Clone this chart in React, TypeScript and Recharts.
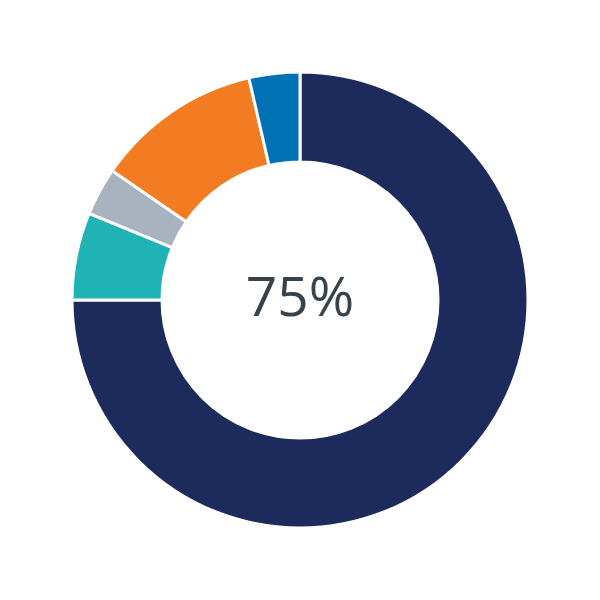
import React from 'react';
import { PieChart, Pie, Cell, Label } from 'recharts';

const NAMES = ['Main', 'Teal', 'Gray', 'Orange', 'Blue'];
const VALUES = [75, 6.2, 3.4, 11.8, 3.6];
const COLORS = ['#1c2b5b', '#20b3b5', '#a9b3bf', '#f37b21', '#0072b4'];
const CENTER_LABEL = '75%';

const DATA = NAMES.map((name, i) => ({ name, value: VALUES[i] }));

const CenterText = ({ viewBox }: { viewBox?: { cx?: number; cy?: number } }) => {
  const cx = viewBox?.cx ?? 300;
  const cy = viewBox?.cy ?? 300;
  return (
    <text
      x={cx}
      y={cy + 16}
      textAnchor="middle"
      fill="#37424a"
      style={{ fontFamily: "'Open Sans', sans-serif", fontSize: 55, fontWeight: 400 }}
    >
      {CENTER_LABEL}
    </text>
  );
};

export default function App() {
  return (
    <div style={{ width: 600, height: 600, background: '#fff' }}>
      <style>{'body{margin:0}'}</style>
      <PieChart width={600} height={600} margin={{ top: 0, right: 0, bottom: 0, left: 0 }}>
        <Pie
          data={DATA}
          dataKey="value"
          nameKey="name"
          cx={300}
          cy={300}
          innerRadius={138}
          outerRadius={228}
          startAngle={90}
          endAngle={-270}
          stroke="#ffffff"
          strokeWidth={3}
          isAnimationActive={false}
        >
          {DATA.map((d, i) => (
            <Cell key={`cell-${d.name}`} fill={COLORS[i]} />
          ))}
          <Label position="center" content={<CenterText />} />
        </Pie>
      </PieChart>
    </div>
  );
}
